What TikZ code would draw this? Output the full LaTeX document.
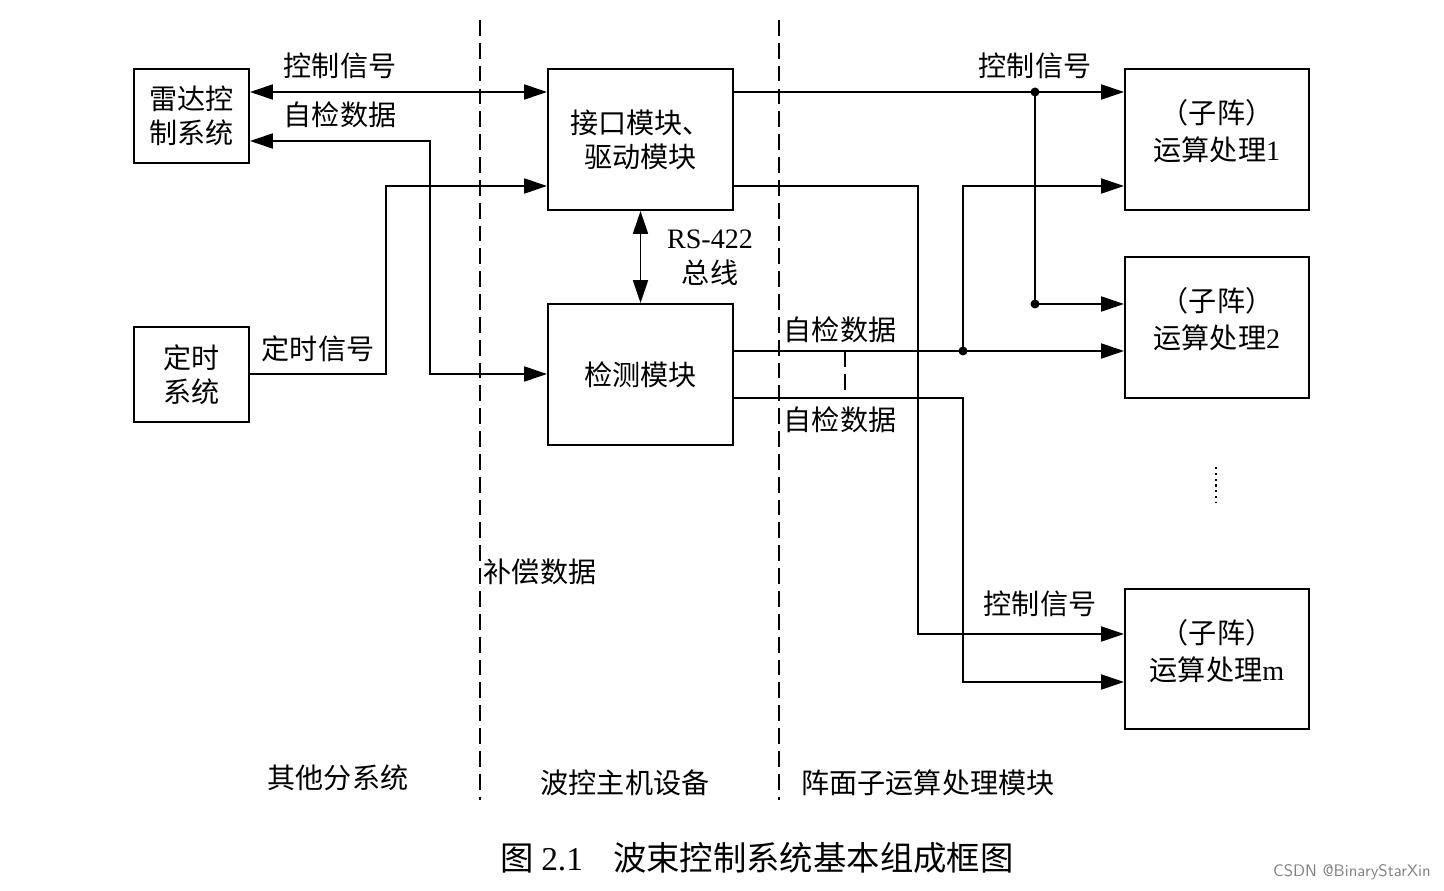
\documentclass[tikz,border=0pt]{standalone}
\usepackage{fontspec}
\setmainfont{Liberation Serif}
\newfontfamily\cjk{Noto Sans CJK SC}
\usetikzlibrary{arrows.meta}
\usepackage{xcolor}

\begin{document}
\begin{tikzpicture}[x=0.02cm, y=-0.02cm, >={Triangle[length=13pt,width=8.5pt]},
        box/.style={draw, line width=1.1pt, align=center, inner sep=0pt, font=\cjk\fontsize{16}{19.5}\selectfont},
        wire/.style={line width=1.1pt},
        tag/.style={font=\cjk\fontsize{16}{19.5}\selectfont, inner sep=0pt},
        subtxt/.style={tag, align=center, font=\cjk\fontsize{16}{21}\selectfont},
        divider/.style={line width=1.2pt, dash pattern=on 9pt off 4pt}]
        \useasboundingbox (0,0) rectangle (1444,891);

        \node[box, minimum width=2.3cm, minimum height=1.88cm] (radar) at (191.5,116) {雷达控\\制系统};
        \node[box, minimum width=2.3cm, minimum height=1.9cm] (timer) at (191.5,374.5) {定时\\系统};
        \node[box, minimum width=3.7cm, minimum height=2.82cm] (iface) at (640.5,139.5) {接口模块、\\驱动模块};
        \node[box, minimum width=3.7cm, minimum height=2.82cm] (detect) at (640.5,374.5) {检测模块};
        \node[box, minimum width=3.68cm, minimum height=2.82cm] (sub1) at (1217,139.5) {};
        \node[box, minimum width=3.68cm, minimum height=2.82cm] (sub2) at (1217,327.5) {};
        \node[box, minimum width=3.68cm, minimum height=2.8cm] (subm) at (1217,659) {};
        \node[subtxt] (sub1txt) at ([yshift=0.16cm]sub1.center) {（子阵）\\运算处理\rmfamily 1};
        \node[subtxt] (sub2txt) at ([yshift=0.16cm]sub2.center) {（子阵）\\运算处理\rmfamily 2};
        \node[subtxt] (submtxt) at ([yshift=0.16cm]subm.center) {（子阵）\\运算处理\rmfamily m};

        \coordinate (jc) at (1035,92);
        \coordinate (jc2) at (1035,304);
        \coordinate (jd) at (963,351);

        % dividers
        \draw[divider] (480,20) -- (480,800);
        \draw[divider] (779,20) -- (779,800);

        \draw[wire, <->] (radar.east |- 0,92) -- (iface.west |- 0,92);
        \draw[wire, <->] (radar.east |- 0,141) -| (430,374) -- (detect.west |- 0,374);
        \draw[wire, ->] (timer.east |- 0,374) -| (386,186) -- (iface.west |- 0,186);
        \draw[wire, <->] (iface.south) -- (detect.north);

        \draw[wire, ->] (iface.east |- 0,92) -- (sub1.west |- 0,92);
        \draw[wire, ->] (jc) |- (sub2.west |- jc2);
        \draw[wire, ->] (iface.east |- 0,186) -| (918,634) -- (subm.west |- 0,634);
        \draw[wire, ->] (detect.east |- 0,351) -- (sub2.west |- 0,351);
        \draw[wire, ->] (jd) |- (sub1.west |- 0,186);
        \draw[wire, ->] (detect.east |- 0,398) -| (963,682) -- (subm.west |- 0,682);
        \draw[wire, dash pattern=on 9pt off 4pt] (845,351) -- (845,392);

        \fill (jc) circle (0.09cm);
        \fill (jc2) circle (0.09cm);
        \fill (jd) circle (0.09cm);
        \draw[line width=1.3pt, dotted] (1216,467) -- (1216,502);

        \node[tag] (t1) at (340,66) {控制信号};
        \node[tag] (t2) at (340,115) {自检数据};
        \node[tag] (t3) at (318,349) {定时信号};
        \node[tag, align=center, font=\cjk\fontsize{16}{19.8}\selectfont] (t4) at (710,258) {\rmfamily RS-422\\总线};
        \node[tag] (t5) at (1035,66) {控制信号};
        \node[tag] (t6) at (840,330) {自检数据};
        \node[tag] (t7) at (840,420) {自检数据};
        \node[tag] (t8) at (540,572) {补偿数据};
        \node[tag] (t9) at (1040,604) {控制信号};

        \node[tag] (z1) at (338,778) {其他分系统};
        \node[tag] (z2) at (625,783) {波控主机设备};
        \node[tag] (z3) at (928,783) {阵面子运算处理模块};

        \node[tag, font=\cjk\fontsize{19}{22}\selectfont] (cap) at (757,858) {图 {\rmfamily 2.1}\hspace{0.9em}波束控制系统基本组成框图};
        \node[font=\sffamily\fontsize{9.5}{11}\selectfont, text=gray, inner sep=0pt] (wm) at (1352,872) {CSDN @BinaryStarXin};
    \end{tikzpicture}
\end{document}
